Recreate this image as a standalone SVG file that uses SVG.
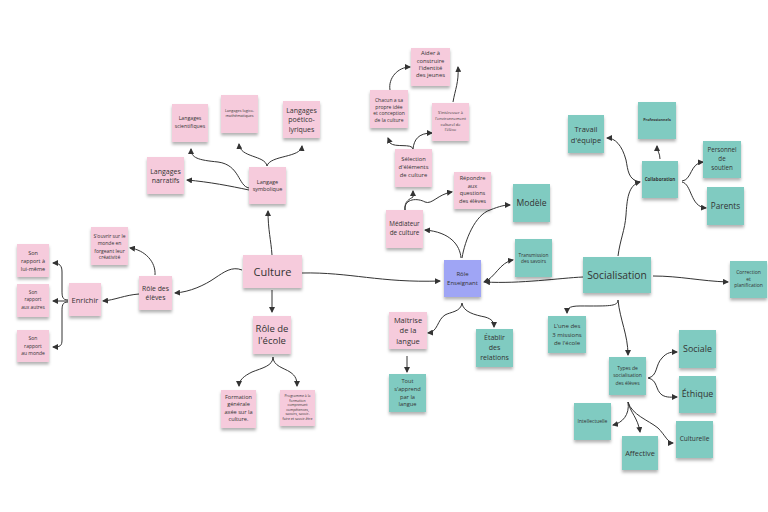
<svg xmlns="http://www.w3.org/2000/svg" width="768" height="512" viewBox="0 0 768 512">
<defs>
<filter id="sh" x="-20%" y="-20%" width="140%" height="150%">
<feDropShadow dx="0" dy="2.5" stdDeviation="1.6" flood-color="#000" flood-opacity="0.3"/>
</filter>
<marker id="ah" viewBox="0 0 6 6" refX="5" refY="3" markerWidth="6" markerHeight="6" markerUnits="userSpaceOnUse" orient="auto-start-reverse">
<path d="M0,0 L6,3 L0,6 z" fill="#333"/>
</marker>
<style>
.p{fill:#f6cbdc;filter:url(#sh)}
.g{fill:#80cbc1;filter:url(#sh)}
.b{fill:#9fa5f5;filter:url(#sh)}
text{font-family:"Open Sans","Liberation Sans",sans-serif;fill:#333;text-anchor:middle}
.c path{fill:none;stroke:#333;stroke-width:1;marker-end:url(#ah)}
.c path.bi{marker-start:url(#ah)}
</style>
</defs>
<rect width="768" height="512" fill="#fff"/>
<g class="c" id="connectors">
<path d="M272,255 C271,240 268,230 268,211"/>
<path d="M249,190 C230,186 210,182 187,180"/>
<path d="M249,188 C238,186 240,165 218,162 C198,160 191,158 191,149"/>
<path d="M267,166 C265,155 240,158 239,144"/>
<path d="M267,166 C270,155 301,158 302,146"/>
<path d="M242,270 C232,266 224,272 215,278 C205,285 190,292 175,293"/>
<path d="M155,275 C156,262 145,250 130,248"/>
<path d="M139,294 C125,295 115,300 103,301"/>
<path d="M68,300 C62,300 62,296 62,290 L62,272 C62,266 60,263 53,263"/>
<path d="M68,302 C62,302 62,306 62,312 L62,340 C62,346 60,347 53,347"/>
<path d="M68,301 L53,301"/>
<path d="M272,290 L272,312"/>
<path d="M273,357 C273,366 262,368 252,372 C244,376 239,380 239,386"/>
<path d="M273,357 C273,366 284,368 290,372 C296,376 297,380 297,386"/>
<path d="M302,273 C350,272 380,283 440,281"/>
<path d="M461,258 C460,245 450,232 425,230"/>
<path d="M462,258 C465,240 475,215 490,210 C500,206 505,205 510,205"/>
<path class="bi" d="M484,282 C495,278 500,262 513,260"/>
<path d="M583,277 C560,278 520,284 485,282"/>
<path d="M462,303 C461,312 450,312 445,315 C437,320 438,332 428,333"/>
<path d="M462,303 C463,312 475,315 485,317 C492,319 494,322 494,327"/>
<path d="M407,356 L407,372"/>
<path d="M405,210 C404,201 410,199 413,197 L413,191"/>
<path d="M405,210 C404,198 418,198 425,202 C432,205 438,194 452,192"/>
<path d="M413,149 C412,143 395,148 390,143 L388,138"/>
<path d="M413,149 C414,140 418,133 432,133"/>
<path d="M390,90 C388,78 398,67 410,67"/>
<path d="M453,102 C455,90 459,82 458,67"/>
<path d="M618,256 C620,240 625,230 626,215 C627,200 628,185 640,182"/>
<path d="M640,182 C628,180 628,170 626,160 C622,145 615,138 607,138"/>
<path d="M660,159 C660,153 657,151 657,146"/>
<path d="M682,181 C692,180 690,163 703,162"/>
<path d="M682,182 C692,184 690,207 706,208"/>
<path d="M653,276 C680,276 700,281 728,282"/>
<path d="M618,300 C618,306 610,306 590,306 C575,306 567,305 567,313"/>
<path d="M618,300 C620,320 628,335 628,355"/>
<path d="M648,378 C658,376 655,365 662,358 C667,352 672,352 677,352"/>
<path d="M648,378 C658,380 655,390 662,395 C667,398 672,397 677,397"/>
<path d="M628,402 C630,415 622,423 613,425"/>
<path d="M628,402 C630,412 638,418 640,432"/>
<path d="M628,402 C632,415 648,420 658,428 C665,435 668,443 673,443"/>
</g>
<g id="lang-sci"><rect class="p" x="172" y="104" width="36" height="38"/><text font-size="5.2"><tspan x="190" y="120">Langages</tspan><tspan x="190" y="128">scientifiques</tspan></text></g>
<g id="lang-logico"><rect class="p" x="221" y="95" width="37" height="38"/><text font-size="3.8"><tspan x="239.5" y="111.5">Langages logico-</tspan><tspan x="239.5" y="117">mathématiques</tspan></text></g>
<g id="lang-poetico"><rect class="p" x="283" y="101" width="37" height="37"/><text font-size="7"><tspan x="301.5" y="112.5">Langages</tspan><tspan x="301.5" y="122">poético-</tspan><tspan x="301.5" y="131.5">lyriques</tspan></text></g>
<g id="lang-narr"><rect class="p" x="147" y="157" width="37" height="37"/><text font-size="7"><tspan x="165.5" y="173.5">Langages</tspan><tspan x="165.5" y="182.5">narratifs</tspan></text></g>
<g id="lang-symb"><rect class="p" x="249" y="167" width="37" height="37"/><text font-size="5.5"><tspan x="267.5" y="184">Langage</tspan><tspan x="267.5" y="191">symbolique</tspan></text></g>
<g id="culture"><rect class="p" x="243" y="255" width="59" height="33"/><text font-size="11" x="272.5" y="275.5">Culture</text></g>
<g id="role-ecole"><rect class="p" x="253" y="316" width="38" height="38"/><text font-size="9.5"><tspan x="272" y="332">Rôle de</tspan><tspan x="272" y="343.5">l'école</tspan></text></g>
<g id="formation"><rect class="p" x="221" y="390" width="35" height="38"/><text font-size="5.6"><tspan x="238.5" y="398.7">Formation</tspan><tspan x="238.5" y="406.3">générale</tspan><tspan x="238.5" y="414.3">axée sur la</tspan><tspan x="238.5" y="421.3">culture.</tspan></text></g>
<g id="programme"><rect class="p" x="280" y="390" width="35" height="36"/><text font-size="3.5"><tspan x="297.5" y="397">Programme à la</tspan><tspan x="297.5" y="401.5">formation</tspan><tspan x="297.5" y="406">comprenant</tspan><tspan x="297.5" y="410.5">compétences,</tspan><tspan x="297.5" y="415">savoirs, savoir-</tspan><tspan x="297.5" y="419.5">faire et savoir-être</tspan></text></g>
<g id="role-eleves"><rect class="p" x="139" y="276" width="33" height="34"/><text font-size="6.8"><tspan x="155.5" y="290.5">Rôle des</tspan><tspan x="155.5" y="299.5">élèves</tspan></text></g>
<g id="ouvrir"><rect class="p" x="91" y="227" width="37" height="38"/><text font-size="5"><tspan x="109.5" y="237.5">S'ouvrir sur le</tspan><tspan x="109.5" y="245">monde en</tspan><tspan x="109.5" y="252.5">forgeant leur</tspan><tspan x="109.5" y="258.5">créativité</tspan></text></g>
<g id="enrichir"><rect class="p" x="69" y="283" width="32" height="33"/><text font-size="7.5" x="85" y="302.7">Enrichir</text></g>
<g id="son1"><rect class="p" x="17" y="244" width="32" height="33"/><text font-size="5.5"><tspan x="33" y="254.7">Son</tspan><tspan x="33" y="262.7">rapport à</tspan><tspan x="33" y="271">lui-même</tspan></text></g>
<g id="son2"><rect class="p" x="17" y="284" width="32" height="33"/><text font-size="4.8"><tspan x="33" y="293.5">Son</tspan><tspan x="33" y="301">rapport</tspan><tspan x="33" y="308.5">aux autres</tspan></text></g>
<g id="son3"><rect class="p" x="17" y="330" width="32" height="32"/><text font-size="5"><tspan x="33" y="340">Son</tspan><tspan x="33" y="347.7">rapport</tspan><tspan x="33" y="355">au monde</tspan></text></g>
<g id="aider"><rect class="p" x="411" y="48" width="39" height="38"/><text font-size="5.8"><tspan x="430.5" y="55.3">Aider à</tspan><tspan x="430.5" y="62.7">construire</tspan><tspan x="430.5" y="69.7">l'identité</tspan><tspan x="430.5" y="77">des jeunes</tspan></text></g>
<g id="chacun"><rect class="p" x="370" y="90" width="38" height="38"/><text font-size="5"><tspan x="389" y="101.8">Chacun a sa</tspan><tspan x="389" y="108.5">propre idée</tspan><tspan x="389" y="115.2">et conception</tspan><tspan x="389" y="122">de la culture</tspan></text></g>
<g id="interesser"><rect class="p" x="432" y="103" width="37" height="38"/><text font-size="4"><tspan x="450.5" y="114">S'intéresser à</tspan><tspan x="450.5" y="120">l'environnement</tspan><tspan x="450.5" y="125.7">culturel de</tspan><tspan x="450.5" y="131.4">l'élève</tspan></text></g>
<g id="selection"><rect class="p" x="395" y="149" width="37" height="38"/><text font-size="5.8"><tspan x="413.5" y="161.3">Sélection</tspan><tspan x="413.5" y="169.3">d'éléments</tspan><tspan x="413.5" y="177">de culture</tspan></text></g>
<g id="repondre"><rect class="p" x="454" y="172" width="37" height="37"/><text font-size="5.6"><tspan x="472.5" y="180.3">Répondre</tspan><tspan x="472.5" y="187.7">aux</tspan><tspan x="472.5" y="195.3">questions</tspan><tspan x="472.5" y="203">des élèves</tspan></text></g>
<g id="modele"><rect class="g" x="513" y="184" width="37" height="38"/><text font-size="8.6" x="531.5" y="206.3">Modèle</text></g>
<g id="mediateur"><rect class="p" x="386" y="210" width="37" height="38"/><text font-size="6.3"><tspan x="404.5" y="225.5">Médiateur</tspan><tspan x="404.5" y="234.9">de culture</tspan></text></g>
<g id="transmission"><rect class="g" x="515" y="239" width="37" height="38"/><text font-size="4.8"><tspan x="533.5" y="256.7">Transmission</tspan><tspan x="533.5" y="263.4">des savoirs</tspan></text></g>
<g id="role-enseignant"><rect class="b" x="444" y="260" width="37" height="37"/><text font-size="6"><tspan x="462.5" y="276.4">Rôle</tspan><tspan x="462.5" y="284.8">Enseignant</tspan></text></g>
<g id="maitrise"><rect class="p" x="389" y="312" width="38" height="37"/><text font-size="7.5"><tspan x="408" y="322.7">Maîtrise</tspan><tspan x="408" y="333">de la</tspan><tspan x="408" y="343.7">langue</tspan></text></g>
<g id="etablir"><rect class="g" x="476" y="329" width="37" height="38"/><text font-size="7"><tspan x="494.5" y="340.2">Établir</tspan><tspan x="494.5" y="349.8">des</tspan><tspan x="494.5" y="359.5">relations</tspan></text></g>
<g id="tout"><rect class="g" x="389" y="374" width="37" height="38"/><text font-size="5.7"><tspan x="407.5" y="383">Tout</tspan><tspan x="407.5" y="391">s'apprend</tspan><tspan x="407.5" y="398.7">par la</tspan><tspan x="407.5" y="406.3">langue</tspan></text></g>
<g id="socialisation"><rect class="g" x="583" y="257" width="68" height="36"/><text font-size="10.3" x="617" y="278.7">Socialisation</text></g>
<g id="correction"><rect class="g" x="730" y="261" width="37" height="37"/><text font-size="5"><tspan x="748.5" y="274">Correction</tspan><tspan x="748.5" y="281">et</tspan><tspan x="748.5" y="287.4">planification</tspan></text></g>
<g id="lune"><rect class="g" x="548" y="316" width="38" height="37"/><text font-size="6"><tspan x="567" y="328.2">L'une des</tspan><tspan x="567" y="336.5">3 missions</tspan><tspan x="567" y="344.5">de l'école</tspan></text></g>
<g id="sociale"><rect class="g" x="679" y="330" width="37" height="38"/><text font-size="8.9" x="697.5" y="352">Sociale</text></g>
<g id="ethique"><rect class="g" x="679" y="376" width="37" height="37"/><text font-size="8.9" x="697.5" y="397">Éthique</text></g>
<g id="types"><rect class="g" x="609" y="357" width="37" height="38"/><text font-size="5"><tspan x="627.5" y="370">Types de</tspan><tspan x="627.5" y="377.3">socialisation</tspan><tspan x="627.5" y="384.6">des élèves</tspan></text></g>
<g id="intellectuelle"><rect class="g" x="574" y="403" width="37" height="37"/><text font-size="5" x="592.5" y="422.7">Intellectuelle</text></g>
<g id="affective"><rect class="g" x="622" y="436" width="36" height="34"/><text font-size="7.4" x="640" y="456">Affective</text></g>
<g id="culturelle"><rect class="g" x="676" y="421" width="37" height="37"/><text font-size="6.6" x="694.5" y="441.4">Culturelle</text></g>
<g id="travail"><rect class="g" x="568" y="115" width="36" height="38"/><text font-size="7.5"><tspan x="586" y="132">Travail</tspan><tspan x="586" y="142.7">d'équipe</tspan></text></g>
<g id="professionnels"><rect class="g" x="638" y="102" width="38" height="37"/><text font-size="3.8" font-weight="bold" x="657" y="121.3">Professionnels</text></g>
<g id="collaboration"><rect class="g" x="642" y="161" width="36" height="37"/><text font-size="4.5" font-weight="bold" x="660" y="180.9">Collaboration</text></g>
<g id="personnel"><rect class="g" x="703" y="141" width="38" height="37"/><text font-size="6.2"><tspan x="722" y="152.2">Personnel</tspan><tspan x="722" y="161.2">de</tspan><tspan x="722" y="169.5">soutien</tspan></text></g>
<g id="parents"><rect class="g" x="707" y="187" width="37" height="38"/><text font-size="8.2" x="725.5" y="209">Parents</text></g>
</svg>
